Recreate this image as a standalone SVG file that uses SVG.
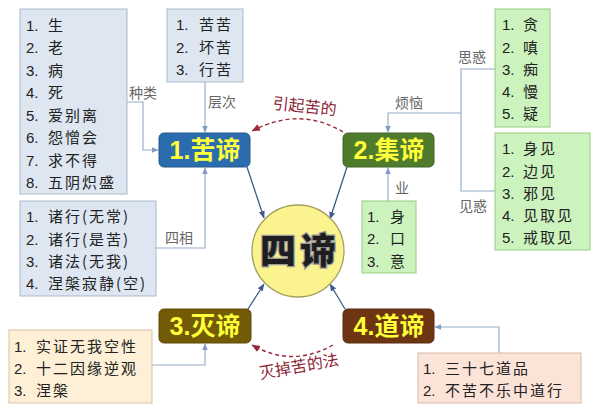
<svg xmlns="http://www.w3.org/2000/svg" width="600" height="411" viewBox="0 0 600 411">
<defs>
<marker id="ab" markerWidth="7" markerHeight="7" refX="6" refY="3.5" orient="auto" markerUnits="userSpaceOnUse"><path d="M0,0.8 L6.5,3.5 L0,6.2 Z" fill="#7f9cc4"/></marker>
<marker id="ad" markerWidth="8" markerHeight="8" refX="7" refY="4" orient="auto" markerUnits="userSpaceOnUse"><path d="M0,1 L7.5,4 L0,7 Z" fill="#3d5a8c"/></marker>
<marker id="ar" markerWidth="9" markerHeight="9" refX="8" refY="4.5" orient="auto" markerUnits="userSpaceOnUse"><path d="M0,1 L8.5,4.5 L0,8 Z" fill="#9a2a3a"/></marker>
</defs>
<style>
.t{font-family:"Liberation Sans","Noto Sans CJK SC",sans-serif;font-size:15px;fill:#222}
.c{font-family:"Noto Sans CJK SC",sans-serif;letter-spacing:2px}
.lb{font-family:"Noto Sans CJK SC",sans-serif;font-size:14px;fill:#666}
.bl{fill:#dde6f1;stroke:#a9b9cc;stroke-width:1}
.gr{fill:#ccf3bd;stroke:#98cc84;stroke-width:1}
.tan{fill:#fdf0d6;stroke:#d6c3a3;stroke-width:1}
.pk{fill:#fbe3d8;stroke:#d8b9aa;stroke-width:1}
.nt{font-family:"Liberation Sans","Noto Sans CJK SC",sans-serif;font-size:25px;font-weight:bold;fill:#ffff3a;text-anchor:middle}
.cn{fill:none;stroke:#93aacb;stroke-width:1.1}
.dk{fill:none;stroke:#3d5a8c;stroke-width:1.3}
.ds{fill:none;stroke:#9a2a3a;stroke-width:1.4;stroke-dasharray:4,3}
.rl{font-family:"Noto Sans CJK SC",sans-serif;font-size:16px;fill:#8b2535;text-anchor:middle}
</style>
<rect width="600" height="411" fill="#ffffff"/>

<g id="connectors">
<polyline class="cn" points="127,102 143,102 143,150 158,150" marker-end="url(#ab)"/>
<line class="cn" x1="205" y1="82" x2="205" y2="132" marker-end="url(#ab)"/>
<polyline class="cn" points="156,248 205,248 205,168" marker-end="url(#ab)"/>
<polyline class="cn" points="152,365 205,365 205,344" marker-end="url(#ab)"/>
<polyline class="cn" points="461,113 388,113 388,132" marker-end="url(#ab)"/>
<polyline class="cn" points="495,69 461,69 461,191 495,191"/>
<line class="cn" x1="388" y1="201" x2="388" y2="168" marker-end="url(#ab)"/>
<polyline class="cn" points="499,353 499,327 435,327" marker-end="url(#ab)"/>
<line class="dk" x1="247" y1="167" x2="264" y2="218" marker-end="url(#ad)"/>
<line class="dk" x1="347" y1="167" x2="330" y2="219" marker-end="url(#ad)"/>
<line class="dk" x1="248" y1="309" x2="264" y2="284" marker-end="url(#ad)"/>
<line class="dk" x1="345" y1="309" x2="330" y2="284" marker-end="url(#ad)"/>
<path class="ds" d="M343,132 Q300,106 252,131" marker-end="url(#ar)"/>
<path class="ds" d="M333,345 Q292,368 252,345" marker-end="url(#ar)"/>
<text class="rl" transform="translate(304,112) rotate(6)">引起苦的</text>
<text class="rl" transform="translate(300,372) rotate(-10)">灭掉苦的法</text>
<text class="lb" x="129" y="98">种类</text>
<text class="lb" x="208" y="107">层次</text>
<text class="lb" x="165" y="243">四相</text>
<text class="lb" x="395" y="108">烦恼</text>
<text class="lb" x="458" y="62">思惑</text>
<text class="lb" x="459" y="211">见惑</text>
<text class="lb" x="395" y="193">业</text>
</g>

<g id="list-kinds">
<rect class="bl" x="20" y="9" width="107" height="185"/>
<text class="t" x="26" y="30.5">1.<tspan class="c" dx="9.5">生</tspan></text>
<text class="t" x="26" y="53">2.<tspan class="c" dx="9.5">老</tspan></text>
<text class="t" x="26" y="75.5">3.<tspan class="c" dx="9.5">病</tspan></text>
<text class="t" x="26" y="98">4.<tspan class="c" dx="9.5">死</tspan></text>
<text class="t" x="26" y="120.5">5.<tspan class="c" dx="9.5">爱别离</tspan></text>
<text class="t" x="26" y="143">6.<tspan class="c" dx="9.5">怨憎会</tspan></text>
<text class="t" x="26" y="165.5">7.<tspan class="c" dx="9.5">求不得</tspan></text>
<text class="t" x="26" y="188">8.<tspan class="c" dx="9.5">五阴炽盛</tspan></text>
</g>

<g id="list-levels">
<rect class="bl" x="167" y="9" width="76" height="73"/>
<text class="t" x="176" y="29.5">1.<tspan class="c" dx="10.5">苦苦</tspan></text>
<text class="t" x="176" y="52.5">2.<tspan class="c" dx="10.5">坏苦</tspan></text>
<text class="t" x="176" y="74.5">3.<tspan class="c" dx="10.5">行苦</tspan></text>
</g>

<g id="list-four-marks">
<rect class="bl" x="20" y="201" width="136" height="95"/>
<text class="t" x="26" y="221.5">1.<tspan class="c" dx="9.5">诸行(无常)</tspan></text>
<text class="t" x="26" y="244.5">2.<tspan class="c" dx="9.5">诸行(是苦)</tspan></text>
<text class="t" x="26" y="266.5">3.<tspan class="c" dx="9.5">诸法(无我)</tspan></text>
<text class="t" x="26" y="288.5">4.<tspan class="c" dx="9.5">涅槃寂静(空)</tspan></text>
</g>

<g id="list-cessation">
<rect class="tan" x="9" y="330" width="143" height="73"/>
<text class="t" x="14" y="351.5">1.<tspan class="c" dx="9.5">实证无我空性</tspan></text>
<text class="t" x="14" y="373.5">2.<tspan class="c" dx="9.5">十二因缘逆观</tspan></text>
<text class="t" x="14" y="395.5">3.<tspan class="c" dx="9.5">涅槃</tspan></text>
</g>

<g id="list-thought">
<rect class="gr" x="495" y="9" width="55" height="118"/>
<text class="t" x="502" y="29.5">1.<tspan class="c" dx="8.5">贪</tspan></text>
<text class="t" x="502" y="52.5">2.<tspan class="c" dx="8.5">嗔</tspan></text>
<text class="t" x="502" y="74.5">3.<tspan class="c" dx="8.5">痴</tspan></text>
<text class="t" x="502" y="96.5">4.<tspan class="c" dx="8.5">慢</tspan></text>
<text class="t" x="502" y="118.5">5.<tspan class="c" dx="8.5">疑</tspan></text>
</g>

<g id="list-views">
<rect class="gr" x="495" y="133" width="95" height="117"/>
<text class="t" x="502" y="153.5">1.<tspan class="c" dx="8.5">身见</tspan></text>
<text class="t" x="502" y="176.5">2.<tspan class="c" dx="8.5">边见</tspan></text>
<text class="t" x="502" y="198.5">3.<tspan class="c" dx="8.5">邪见</tspan></text>
<text class="t" x="502" y="220.5">4.<tspan class="c" dx="8.5">见取见</tspan></text>
<text class="t" x="502" y="242.5">5.<tspan class="c" dx="8.5">戒取见</tspan></text>
</g>

<g id="list-karma">
<rect class="gr" x="362" y="201" width="54" height="72"/>
<text class="t" x="367" y="221.5">1.<tspan class="c" dx="10.5">身</tspan></text>
<text class="t" x="367" y="243.5">2.<tspan class="c" dx="10.5">口</tspan></text>
<text class="t" x="367" y="266.5">3.<tspan class="c" dx="10.5">意</tspan></text>
</g>

<g id="list-path">
<rect class="pk" x="418" y="353" width="163" height="50"/>
<text class="t" x="423" y="373.5">1.<tspan class="c" dx="9.5">三十七道品</tspan></text>
<text class="t" x="423" y="395.5">2.<tspan class="c" dx="9.5">不苦不乐中道行</tspan></text>
</g>

<g id="node-suffering">
<rect x="159" y="133" width="91" height="34" rx="5" fill="#2b6cae" stroke="#24598f" stroke-width="1"/>
<text class="nt" x="205" y="159">1.苦谛</text>
</g>
<g id="node-origin">
<rect x="343" y="133" width="91" height="34" rx="5" fill="#4f7b2c" stroke="#40662a" stroke-width="1"/>
<text class="nt" x="389" y="159">2.集谛</text>
</g>
<g id="node-cessation">
<rect x="159" y="309" width="92" height="34" rx="5" fill="#735a06" stroke="#5e4a06" stroke-width="1"/>
<text class="nt" x="205" y="335">3.灭谛</text>
</g>
<g id="node-path">
<rect x="343" y="309" width="91" height="34" rx="5" fill="#6e3512" stroke="#5a2c10" stroke-width="1"/>
<text class="nt" x="389" y="335">4.道谛</text>
</g>

<g id="center">
<circle cx="298" cy="251" r="46" fill="#fbf38e" stroke="#a3a060" stroke-width="1.3"/>
<text x="300" y="264" font-family="Noto Sans CJK SC,sans-serif" font-size="36" font-weight="900" text-anchor="middle" fill="#1e1e1e" stroke="#9a9a9a" stroke-width="2.5" paint-order="stroke" letter-spacing="4">四谛</text>
</g>
</svg>
